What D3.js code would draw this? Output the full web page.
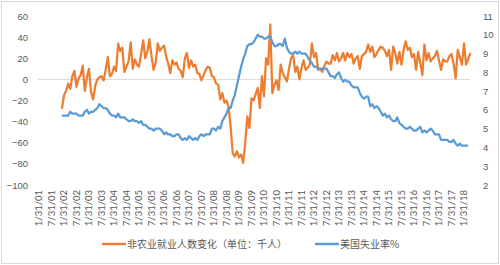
<!DOCTYPE html>
<html>
<head>
<meta charset="utf-8">
<script src="https://cdn.jsdelivr.net/npm/d3@7"></script>
<style>
  body { margin: 0; background: #fff; }
  svg text { fill: #595959; }
</style>
</head>
<body>
<div id="chartHolder"></div>
<script>
// months counted from Jan 2001 (0); both series start Dec 2001
const startMonth = 11;

const tickLabels = [
  '1/31/01', '7/31/01', '1/31/02', '7/31/02', '1/31/03', '7/31/03', '1/31/04', '7/31/04',
  '1/31/05', '7/31/05', '1/31/06', '7/31/06', '1/31/07', '7/31/07', '1/31/08', '7/31/08',
  '1/31/09', '7/31/09', '1/31/10', '7/31/10', '1/31/11', '7/31/11', '1/31/12', '7/31/12',
  '1/31/13', '7/31/13', '1/31/14', '7/31/14', '1/31/15', '7/31/15', '1/31/16', '7/31/16',
  '1/31/17', '7/31/17', '1/31/18'
];

const leftTicks = [-100, -80, -60, -40, -20, 0, 20, 40, 60];
const rightTicks = [2, 3, 4, 5, 6, 7, 8, 9, 10, 11];

// 非农业就业人数变化, monthly
const payrollChange = [
  -28, -15, -11, -4, -9, 3, 8, -7, 1, 4, 13, -11,
  2, 10, -12, -19, -6, 0, 2, 3, -1, 9, 21, 3,
  5, 12, 8, 34, 27, 30, 7, 12, 17, 35, 10, 19,
  14, 12, 24, 37, 20, 26, 38, 22, 9, 16, 34, 27,
  30, 32, 22, 15, 6, 18, 14, 16, 10, 8, 2, 20,
  25, 11, 18, 12, 14, 6, 5, -1, 4, 9, 12, 11,
  3, 2, -4, -5, -19, -13, -22, -20, -26, -45, -70, -73,
  -68, -74, -71, -79, -60, -35, -46, -18, -20, -14, -8, -27,
  3, -16, 20, 14, 52, -13, -5, -1, -10, 14, 6, 2,
  -2, 10, 20, 23, 7, 12, 0, 11, 18, 9, 11, 14,
  34, 21, 25, 9, 10, 7, 13, 17, 15, 15, 23, 18,
  25, 17, 20, 25, 18, 25, 21, 24, 15, 20, 22, 10,
  22, 24, 26, 33, 26, 31, 21, 24, 28, 31, 30, 27,
  22, 28, 9, 31, 25, 15, 26, 14, 28, 36, 28, 30,
  21, 24, 9, 26, 16, 4, 33, 18, 25, 17, 20, 22,
  27, 18, 9, 19, 17, 17, 22, 24, 15, 1, 28, 21,
  14, 34, 14, 19, 25
];

// 美国失业率%, monthly
const unemploymentRate = [
  5.7,
  5.7, 5.7, 5.7, 5.9, 5.8, 5.8, 5.8, 5.7, 5.7, 5.7, 5.9, 6.0,
  5.8, 5.9, 5.9, 6.0, 6.1, 6.3, 6.2, 6.1, 6.1, 6.0, 5.8, 5.7,
  5.7, 5.6, 5.8, 5.6, 5.6, 5.6, 5.5, 5.4, 5.4, 5.5, 5.4, 5.4,
  5.3, 5.4, 5.2, 5.2, 5.1, 5.0, 5.0, 4.9, 5.0, 5.0, 5.0, 4.9,
  4.7, 4.8, 4.7, 4.7, 4.6, 4.6, 4.7, 4.7, 4.5, 4.4, 4.5, 4.4,
  4.6, 4.5, 4.4, 4.5, 4.4, 4.6, 4.7, 4.6, 4.7, 4.7, 4.7, 5.0,
  5.0, 4.9, 5.1, 5.0, 5.4, 5.6, 5.8, 6.1, 6.1, 6.5, 6.8, 7.3,
  7.8, 8.3, 8.7, 9.0, 9.4, 9.5, 9.5, 9.6, 9.8, 10.0, 9.9, 9.9,
  9.8, 9.8, 9.9, 9.9, 9.6, 9.4, 9.4, 9.5, 9.5, 9.4, 9.8, 9.3,
  9.1, 9.0, 9.0, 9.1, 9.0, 9.1, 9.0, 9.0, 9.0, 8.8, 8.6, 8.5,
  8.3, 8.3, 8.2, 8.2, 8.2, 8.2, 8.2, 8.0, 7.8, 7.8, 7.7, 7.9,
  8.0, 7.7, 7.5, 7.6, 7.5, 7.5, 7.3, 7.2, 7.2, 7.2, 6.9, 6.7,
  6.6, 6.7, 6.7, 6.2, 6.3, 6.1, 6.2, 6.1, 5.9, 5.7, 5.8, 5.6,
  5.7, 5.5, 5.4, 5.4, 5.6, 5.3, 5.2, 5.1, 5.0, 5.0, 5.1, 5.0,
  4.9, 4.9, 5.0, 5.1, 4.8, 4.9, 4.8, 4.9, 5.0, 4.9, 4.7, 4.7,
  4.7, 4.4, 4.4, 4.4, 4.4, 4.3, 4.3, 4.4, 4.2, 4.1, 4.2, 4.1,
  4.1, 4.1, 4.1
];

const seriesNames = ['非农业就业人数变化（单位：千人）', '美国失业率%'];
const colors = ['#ed7d31', '#5b9bd5'];

const width = 500;
const height = 265;
const plot = { left: 38, right: 470, top: 16, bottom: 185 };

const svg = d3.select('#chartHolder').append('svg')
  .attr('width', width)
  .attr('height', height)
  .style('font-family', 'Lato, "Liberation Sans", sans-serif');

svg.append('rect')
  .attr('x', 1.5).attr('y', 1.5)
  .attr('width', width - 3).attr('height', height - 3)
  .attr('fill', '#fff')
  .attr('stroke', '#d9d9d9');

const x = d3.scaleLinear().domain([0, (tickLabels.length - 1) * 6]).range([39, 464]);
const yL = d3.scaleLinear().domain([-100, 60]).range([plot.bottom, plot.top]);
const yR = d3.scaleLinear().domain([2, 11]).range([plot.bottom, plot.top]);

// zero line
svg.append('line')
  .attr('x1', plot.left).attr('x2', plot.right)
  .attr('y1', yL(0)).attr('y2', yL(0))
  .attr('stroke', '#d9d9d9')
  .attr('stroke-width', 1);

// left axis
const leftAxis = svg.append('g')
  .attr('transform', 'translate(' + plot.left + ',0)')
  .call(d3.axisLeft(yL).tickValues(leftTicks).tickSize(0).tickPadding(10));
leftAxis.select('.domain').remove();
leftAxis.selectAll('text').style('font-size', '9.5px').attr('fill', '#595959');

// right axis
const rightAxis = svg.append('g')
  .attr('transform', 'translate(' + plot.right + ',0)')
  .call(d3.axisRight(yR).tickValues(rightTicks).tickSize(0).tickPadding(13));
rightAxis.select('.domain').remove();
rightAxis.selectAll('text').style('font-size', '9.5px').attr('fill', '#595959');

// rotated category labels
svg.append('g')
  .selectAll('text')
  .data(tickLabels)
  .enter().append('text')
  .attr('transform', (d, i) => 'translate(' + x(i * 6) + ',190) rotate(-90)')
  .attr('text-anchor', 'end')
  .attr('dy', '0.35em')
  .style('font-size', '9.5px')
  .text(d => d);

const linePayroll = d3.line()
  .x((d, i) => x(startMonth + i))
  .y(d => yL(d));

const lineRate = d3.line()
  .x((d, i) => x(startMonth + i))
  .y(d => yR(d));

svg.append('path')
  .datum(payrollChange)
  .attr('d', linePayroll)
  .attr('fill', 'none')
  .attr('stroke', colors[0])
  .attr('stroke-width', 2.25)
  .attr('stroke-linejoin', 'round');

svg.append('path')
  .datum(unemploymentRate)
  .attr('d', lineRate)
  .attr('fill', 'none')
  .attr('stroke', colors[1])
  .attr('stroke-width', 2.25)
  .attr('stroke-linejoin', 'round');

// legend
const legendX = [102, 315];
const legend = svg.append('g')
  .selectAll('g')
  .data(seriesNames)
  .enter().append('g')
  .attr('transform', (d, i) => 'translate(' + legendX[i] + ',244)');

legend.append('line')
  .attr('x1', 0).attr('x2', 24)
  .attr('stroke', (d, i) => colors[i])
  .attr('stroke-width', 2.5);

legend.append('text')
  .attr('x', 25)
  .attr('dy', '0.35em')
  .style('font-family', '"Noto Sans CJK SC", sans-serif')
  .style('font-size', '10px')
  .text(d => d);
</script>
</body>
</html>
